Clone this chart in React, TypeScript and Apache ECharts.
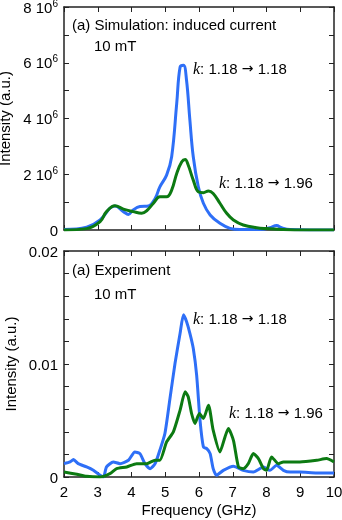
import React, { useEffect, useRef } from "react";
import * as echarts from "echarts";

// Top panel: simulation (units of 1e6)
const simBlueF = [2.0, 2.67, 3.07, 3.36, 3.51, 3.76, 3.91, 4.05, 4.25, 4.5, 4.7, 4.84, 5.04, 5.19, 5.34, 5.44, 5.54, 5.63, 5.73, 5.83, 5.98, 6.13, 6.33, 6.62, 6.92, 7.21, 7.81, 8.1, 8.3, 8.45, 8.7, 10];
const simBlueV = [0.02, 0.1, 0.36, 0.78, 0.86, 0.66, 0.56, 0.72, 0.84, 0.86, 1.13, 1.55, 1.97, 2.63, 4.54, 5.85, 5.91, 5.38, 3.94, 2.63, 1.55, 0.96, 0.54, 0.24, 0.06, 0.02, 0.02, 0.08, 0.16, 0.08, 0.02, 0];
const simGreenF = [2.0, 2.67, 3.07, 3.26, 3.51, 3.76, 4.05, 4.3, 4.45, 4.65, 4.84, 5.04, 5.19, 5.34, 5.49, 5.59, 5.68, 5.83, 5.98, 6.13, 6.28, 6.42, 6.62, 6.82, 7.02, 7.31, 7.71, 8.0, 8.5, 8.99, 10];
const simGreenV = [0, 0.05, 0.3, 0.66, 0.87, 0.75, 0.66, 0.6, 0.69, 0.96, 1.19, 1.19, 1.43, 2.03, 2.45, 2.53, 2.33, 1.79, 1.37, 1.34, 1.4, 1.31, 0.96, 0.6, 0.36, 0.18, 0.08, 0.05, 0.02, 0, 0];

// Bottom panel: experiment (units of 1e-3)
const expBlueF = [2.0, 2.18, 2.28, 2.42, 2.67, 2.87, 3.07, 3.17, 3.26, 3.46, 3.66, 3.91, 4.1, 4.25, 4.4, 4.55, 4.7, 4.84, 4.99, 5.14, 5.29, 5.44, 5.54, 5.63, 5.73, 5.83, 5.93, 6.03, 6.13, 6.23, 6.33, 6.42, 6.52, 6.72, 7.02, 7.31, 7.61, 7.91, 8.1, 8.3, 8.5, 8.7, 8.99, 9.49, 10];
const expBlueV = [1.18, 1.33, 1.54, 1.18, 0.89, 0.59, 0.15, 0, 0.89, 1.33, 1.18, 1.48, 2.22, 2.07, 1.18, 0.74, 1.18, 2.37, 3.85, 6.95, 10.06, 12.72, 14.35, 13.76, 12.72, 11.39, 9.02, 5.03, 2.66, 2.51, 2.07, 0.74, 0.15, 0.59, 0.95, 0.59, 0.44, 0.89, 0.59, 1.04, 0.59, 0.44, 0.44, 0.36, 0.36];
const expGreenF = [2.0, 2.38, 2.67, 3.07, 3.36, 3.56, 3.86, 4.15, 4.45, 4.7, 4.84, 5.04, 5.24, 5.44, 5.59, 5.68, 5.78, 5.88, 6.01, 6.13, 6.28, 6.42, 6.62, 6.77, 6.87, 7.02, 7.17, 7.31, 7.46, 7.61, 7.76, 7.91, 8.0, 8.15, 8.35, 8.5, 8.99, 9.49, 9.78, 10];
const expGreenV = [0.44, 0.24, 0.06, 0, 0.3, 0.74, 0.89, 1.18, 1.18, 1.48, 1.48, 3.1, 3.99, 5.92, 7.54, 7.1, 5.62, 4.73, 5.62, 5.18, 6.36, 4.14, 2.22, 3.55, 4.29, 3.25, 0.89, 0.74, 1.18, 2.07, 1.63, 0.74, 0.59, 1.78, 1.18, 1.33, 1.33, 1.48, 1.63, 1.33];

const xTicks = [2, 3, 4, 5, 6, 7, 8, 9, 10];

const BLUE = "#2e6ff7";
const GREEN = "#0c7a12";
const AX = "#222";
const FONT = "'Liberation Sans', Arial, sans-serif";
const FS = 15;

const pairs = (f: number[], v: number[]) => f.map((x, i) => [x, v[i]]);

function buildOption() {
  const axisLine = () => ({ show: true, onZero: false, lineStyle: { color: AX, width: 1.5 } });
  const tick = () => ({ show: true, inside: true, length: 5, lineStyle: { color: AX, width: 1 } });
  const xAx = (gi: number, pos: string, labels: boolean, name?: string) => ({
    type: "value",
    gridIndex: gi,
    position: pos,
    min: xTicks[0],
    max: xTicks[xTicks.length - 1],
    interval: 1,
    axisLine: axisLine(),
    axisTick: tick(),
    splitLine: { show: false },
    axisLabel: { show: labels, color: "#000", fontSize: FS, fontFamily: FONT, margin: 7 },
    name: name || "",
    nameLocation: "middle",
    nameGap: 25,
    nameTextStyle: { color: "#000", fontSize: FS, fontFamily: FONT },
  });
  const yAx = (gi: number, pos: string, labels: boolean, max: number, interval: number, minorN: number, fmt: (v: number) => string) => ({
    type: "value",
    gridIndex: gi,
    position: pos,
    min: 0,
    max,
    interval,
    axisLine: axisLine(),
    axisTick: tick(),
    minorTick: { show: true, splitNumber: minorN, length: 5, lineStyle: { color: AX, width: 1 } },
    splitLine: { show: false },
    minorSplitLine: { show: false },
    axisLabel: {
      show: labels,
      color: "#000",
      fontSize: FS,
      fontFamily: FONT,
      margin: 6,
      formatter: fmt,
      rich: {
        n: { fontSize: FS, fontFamily: FONT, color: "#000" },
        s: { fontSize: 10, fontFamily: FONT, color: "#000", padding: [0, 0, 8, 0] },
      },
    },
    name: labels ? "Intensity (a.u.)" : "",
    nameLocation: "middle",
    nameGap: 46,
    nameTextStyle: { color: "#000", fontSize: FS, fontFamily: FONT },
  });
  const topFmt = (v: number) => (v === 0 ? "0" : `{n|${v} 10}{s|6}`);
  const botFmt = (v: number) => (v === 0 ? "0" : (v / 1000).toString());
  const kRich = () => ({
    k: { fontFamily: "'Liberation Serif', 'DejaVu Serif', serif", fontStyle: "italic", fontSize: 16, fill: "#000" },
    t: { fontFamily: FONT, fontSize: FS, fill: "#000" },
    a: { fontFamily: "'DejaVu Sans', sans-serif", fontSize: 14, fill: "#000" },
  });
  const txt = (x: number, y: number, text: string, rich?: any) => ({
    type: "text",
    x,
    y,
    z: 100,
    style: { text, fill: "#000", font: `${FS}px ${FONT}`, verticalAlign: "middle", align: "left", ...(rich ? { rich } : {}) },
  });
  const kLabel = (x: number, y: number, a: string, b: string) =>
    txt(x, y, `{k|k}{t|: ${a} }{a|\u2192}{t| ${b}}`, kRich());
  const lineS = (xi: number, data: number[][], color: string, smooth: number) => ({
    type: "line",
    xAxisIndex: xi,
    yAxisIndex: xi,
    data,
    showSymbol: false,
    smooth,
    lineStyle: { color, width: 3 },
    itemStyle: { color },
  });
  return {
    animation: false,
    grid: [
      { left: 64, right: 8, top: 7, height: 223, outerBoundsMode: "none", containLabel: false },
      { left: 64, right: 8, top: 251, height: 226, outerBoundsMode: "none", containLabel: false },
    ],
    xAxis: [xAx(0, "bottom", false), xAx(1, "bottom", true, "Frequency (GHz)"), xAx(0, "top", false), xAx(1, "top", false)],
    yAxis: [
      yAx(0, "left", true, 8, 2, 2, topFmt),
      yAx(1, "left", true, 20, 10, 5, botFmt),
      yAx(0, "right", false, 8, 2, 2, topFmt),
      yAx(1, "right", false, 20, 10, 5, botFmt),
    ],
    series: [
      lineS(0, pairs(simBlueF, simBlueV), BLUE, 0.4),
      lineS(0, pairs(simGreenF, simGreenV), GREEN, 0.4),
      lineS(1, pairs(expBlueF, expBlueV), BLUE, 0.2),
      lineS(1, pairs(expGreenF, expGreenV), GREEN, 0.2),
    ],
    graphic: [
      txt(72, 24, "(a) Simulation: induced current"),
      txt(94, 45, "10 mT"),
      kLabel(193, 68, "1.18", "1.18"),
      kLabel(219, 182, "1.18", "1.96"),
      txt(72, 269, "(a) Experiment"),
      txt(94, 293, "10 mT"),
      kLabel(193, 318, "1.18", "1.18"),
      kLabel(229, 412, "1.18", "1.96"),
    ],
  };
}

export default function App() {
  const ref = useRef<HTMLDivElement>(null);
  useEffect(() => {
    if (!ref.current) return;
    const chart = echarts.init(ref.current, undefined, { renderer: "svg" });
    chart.setOption(buildOption() as any);
    return () => chart.dispose();
  }, []);
  return (
    <div style={{ position: "fixed", left: 0, top: 0, width: 342, height: 520 }}>
      <div ref={ref} style={{ width: 342, height: 520 }} />
    </div>
  );
}
